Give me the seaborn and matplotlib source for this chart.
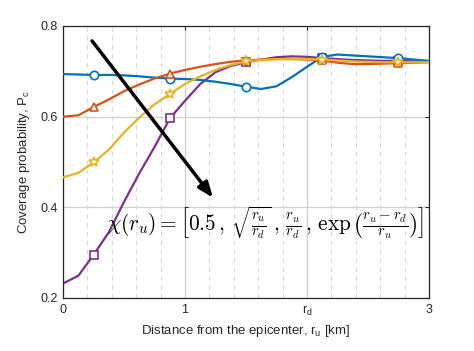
import numpy as np
import pandas as pd
import matplotlib
matplotlib.use("Agg")
import matplotlib.pyplot as plt
import seaborn as sns
from matplotlib.ticker import MultipleLocator

# distancia al epicentro (km), muestreada cada 0.125
r_u = [0, 0.125, 0.25, 0.375, 0.5, 0.625, 0.75, 0.875, 1.0, 1.125, 1.25, 1.375, 1.5,
       1.625, 1.75, 1.875, 2.0, 2.125, 2.25, 2.375, 2.5, 2.625, 2.75, 2.875, 3.0]

pc_blue = [0.694, 0.693, 0.692, 0.692, 0.691, 0.689, 0.686, 0.684, 0.683, 0.681, 0.677, 0.672, 0.666,
           0.661, 0.667, 0.687, 0.710, 0.732, 0.737, 0.735, 0.733, 0.731, 0.729, 0.726, 0.723]
pc_red = [0.600, 0.603, 0.621, 0.638, 0.656, 0.671, 0.684, 0.695, 0.703, 0.710, 0.716, 0.721, 0.724,
          0.726, 0.727, 0.727, 0.726, 0.724, 0.719, 0.716, 0.716, 0.717, 0.718, 0.719, 0.720]
pc_yellow = [0.466, 0.476, 0.499, 0.527, 0.565, 0.598, 0.627, 0.650, 0.672, 0.689, 0.703, 0.714, 0.722,
             0.725, 0.727, 0.727, 0.727, 0.726, 0.724, 0.722, 0.721, 0.720, 0.720, 0.720, 0.720]
pc_purple = [0.232, 0.249, 0.295, 0.345, 0.412, 0.475, 0.533, 0.596, 0.635, 0.672, 0.698, 0.712, 0.720,
             0.726, 0.731, 0.733, 0.732, 0.729, 0.727, 0.725, 0.724, 0.723, 0.723, 0.722, 0.721]

x_ticks = [0, 1, 2, 3]
x_ticklabels = ["0", "1", r"$\mathregular{r_d}$", "3"]
y_ticks = [0.2, 0.4, 0.6, 0.8]

# (valores, color, marcador, zorder)
series = [
    (pc_blue, "#0072BD", "o", 3),
    (pc_red, "#D95319", "^", 4),
    (pc_yellow, "#EDB120", "*", 5),
    (pc_purple, "#7E2F8E", "s", 2),
]

sns.set_style("white")
plt.rcParams["font.family"] = ["Liberation Sans", "DejaVu Sans"]
plt.rcParams["mathtext.fontset"] = "cm"

fig = plt.figure(figsize=(4.74, 3.51), dpi=100)
ax = fig.add_axes([0.133, 0.151, 0.772, 0.775])

for vals, col, mk, z in series:
    df = pd.DataFrame({"r": r_u, "pc": vals})
    sns.lineplot(data=df, x="r", y="pc", ax=ax, color=col, lw=1.6, sort=False, zorder=z,
                 marker=mk, markevery=slice(2, None, 5), markersize=7 if mk == "*" else 6,
                 markerfacecolor="white", markeredgecolor=col, markeredgewidth=1.2)

ax.set_xlim(0, 3)
ax.set_ylim(0.2, 0.8)
ax.set_xticks(x_ticks)
ax.set_xticklabels(x_ticklabels)
ax.set_yticks(y_ticks)
ax.set_yticklabels(["0.2", "0.4", "0.6", "0.8"])
ax.xaxis.set_minor_locator(MultipleLocator(0.2))

ax.grid(True, which="major", color="#d0d0d0", lw=0.9, ls="-")
ax.grid(True, which="minor", axis="x", color="#d8d8d8", lw=0.8, ls=(0, (4, 4)))
ax.set_axisbelow(True)

ax.tick_params(which="major", direction="in", length=3, width=0.8, top=True, right=True,
               labelsize=9, colors="#262626", pad=4)
ax.tick_params(which="minor", length=0, top=True, right=True)
for s in ax.spines.values():
    s.set_color("#262626")
    s.set_linewidth(0.9)

ax.set_xlabel(r"Distance from the epicenter, $\mathregular{r_u}$ [km]", fontsize=9.5, color="#262626")
ax.set_ylabel(r"Coverage probability, $\mathregular{P_c}$", fontsize=9.5, color="#262626", labelpad=6)

ax.annotate("", xy=(1.23, 0.421), xytext=(0.238, 0.767),
            arrowprops=dict(arrowstyle="-|>,head_length=0.9,head_width=0.35", lw=2.5, color="black",
                            shrinkA=0, shrinkB=0), zorder=6)

ax.text(0.36, 0.366,
        r"$\chi(r_u) = \left[0.5\,,\,\sqrt{\frac{r_u}{r_d}}\,,\,\frac{r_u}{r_d}\,,\,\exp\left(\frac{r_u - r_d}{r_u}\right)\right]$",
        fontsize=15.3, va="center", ha="left", color="black", zorder=6)

fig.savefig("out.png", dpi=100)
